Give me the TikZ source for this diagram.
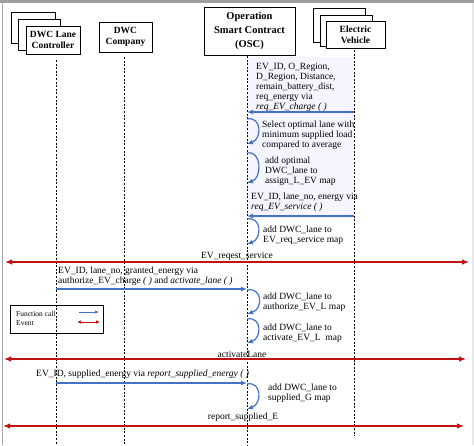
\documentclass[tikz,border=0pt]{standalone}
\usepackage{fontspec}
\setmainfont{Liberation Serif}
\usepackage{xcolor}
\usepackage{tikz}
\usetikzlibrary{arrows.meta}

\definecolor{callblue}{RGB}{68,114,196}
\definecolor{eventred}{RGB}{192,16,16}

\begin{document}
\begin{tikzpicture}[
    x=1pt, y=-1pt,
    actor/.style={draw, fill=white, line width=0.9pt, inner sep=0pt, align=center, font=\bfseries\fontsize{9.5}{11.5}\selectfont},
    shadow/.style={draw, fill=white, line width=0.9pt},
    life/.style={dash pattern=on 2pt off 1.6pt, line width=1pt},
    msg/.style={inner sep=0pt, anchor=north west, align=left, font=\fontsize{9.5}{10}\selectfont},
    lbl/.style={inner sep=0pt, font=\fontsize{9.5}{10}\selectfont},
    legtext/.style={inner sep=0pt, anchor=west, font=\fontsize{7.5}{9}\selectfont},
    call/.style={-{Latex[length=6pt,width=5pt]}, callblue, line width=1.2pt},
    event/.style={{Latex[length=7pt,width=5.5pt]}-{Latex[length=7pt,width=5.5pt]}, eventred, line width=1.2pt}
]
    \useasboundingbox (0,0) rectangle (474,445);

    % window frame
    \fill[gray!75] (0,0) rectangle (474,2.5);
    \fill[gray!18] (471.5,2.5) rectangle (474,445);
    \draw[gray!70, line width=1.3pt] (2.5,0) -- (2.5,445);

    % shaded band between OSC and vehicle
    \fill[blue!4] (247,57) rectangle (354,218);

    % Actors
    \draw[shadow] (11,12) rectangle (55,43);
    \draw[shadow] (18,19) rectangle (60,50);
    \node[actor, minimum width=54pt, minimum height=28pt] (lanectl) at (53,40) {DWC Lane\\Controller};
    \node[actor, minimum width=53pt, minimum height=30pt] (company) at (125.5,37) {DWC\\Company};
    \node[actor, minimum width=91pt, minimum height=48pt, font=\bfseries\fontsize{10.5}{14}\selectfont] (osc) at (249.5,31) {Operation\\Smart Contract\\(OSC)};
    \draw[shadow] (313,8) rectangle (365,42);
    \draw[shadow] (320,15) rectangle (372,46);
    \node[actor, minimum width=59pt, minimum height=27pt] (ev) at (355.5,35) {Electric\\Vehicle};

    % Lifelines
    \coordinate (lc-top) at (56,60);   \coordinate (lc-bot) at (56,445);
    \coordinate (co-top) at (124,57);  \coordinate (co-bot) at (124,445);
    \coordinate (osc-top) at (247,56); \coordinate (osc-bot) at (247,445);
    \coordinate (ev-top) at (354,50);  \coordinate (ev-bot) at (354,436);
    \draw[life] (lc-top) -- (lc-bot);
    \draw[life] (co-top) -- (co-bot);
    \draw[life] (osc-top) -- (osc-bot);
    \draw[life] (ev-top) -- (ev-bot);

    % req_EV_charge
    \node[msg] (m1) at (256,63) {EV\_ID, O\_Region,\\D\_Region, Distance,\\remain\_battery\_dist,\\req\_energy via\\\textit{req\_EV\_charge ( )}};
    \coordinate (ev-1) at (354,112); \coordinate (osc-1) at (247,112);
    \draw[call] (ev-1) -- (osc-1);

    \coordinate (osc-2a) at (247,119); \coordinate (osc-2b) at (247,144);
    \draw[call] (osc-2a) .. controls +(15,-3) and +(15,-5) .. (osc-2b);
    \node[msg] (m2) at (262,121) {Select optimal lane with\\minimum supplied load\\compared to average};

    \coordinate (osc-3a) at (247,153); \coordinate (osc-3b) at (247,183);
    \draw[call] (osc-3a) .. controls +(15,-3) and +(15,-5) .. (osc-3b);
    \node[msg] (m3) at (265,157) {add optimal\\DWC\_lane to\\assign\_L\_EV map};

    % req_EV_service
    \node[msg] (m4) at (251,193) {EV\_ID, lane\_no, energy via\\\textit{req\_EV\_service ( )}};
    \coordinate (ev-4) at (354,216); \coordinate (osc-4) at (247,216);
    \draw[call] (ev-4) -- (osc-4);

    \coordinate (osc-5a) at (247,219); \coordinate (osc-5b) at (247,244);
    \draw[call] (osc-5a) .. controls +(15,-3) and +(15,-5) .. (osc-5b);
    \node[msg] (m5) at (263,226) {add DWC\_lane to\\EV\_req\_service map};

    % event EV_reqest_service
    \coordinate (e1-l) at (5,262); \coordinate (e1-r) at (469,262);
    \draw[event] (e1-l) -- (e1-r);
    \node[lbl] (e1) at (237,256) {EV\_reqest\_service};

    % authorize_EV_charge
    \node[msg] (m7) at (58,267) {EV\_ID, lane\_no, granted\_energy via\\authorize\_EV\_charge \textit{( )} and \textit{activate\_lane ( )}};
    \coordinate (lc-7) at (56,289); \coordinate (osc-7) at (247,289);
    \draw[call] (lc-7) -- (osc-7);

    \coordinate (osc-8a) at (247,290); \coordinate (osc-8b) at (247,314);
    \draw[call] (osc-8a) .. controls +(16,-3) and +(16,-5) .. (osc-8b);
    \node[msg] (m8) at (263,293) {add DWC\_lane to\\authorize\_EV\_L map};

    \coordinate (osc-9a) at (247,319); \coordinate (osc-9b) at (247,343);
    \draw[call] (osc-9a) .. controls +(15,-3) and +(15,-5) .. (osc-9b);
    \node[msg] (m9) at (263,324) {add DWC\_lane to\\activate\_EV\_L\ \ map};

    % event activateLane
    \coordinate (e2-l) at (4,359); \coordinate (e2-r) at (466,359);
    \draw[event] (e2-l) -- (e2-r);
    \node[lbl] (e2) at (242,354) {activateLane};

    % report_supplied_energy
    \node[msg] (m11) at (36,370) {EV\_ID, supplied\_energy via \textit{report\_supplied\_energy ( )}};
    \coordinate (lc-11) at (56,383); \coordinate (osc-11) at (247,383);
    \draw[call] (lc-11) -- (osc-11);

    \coordinate (osc-12a) at (247,384); \coordinate (osc-12b) at (247,409);
    \draw[call] (osc-12a) .. controls +(15,-3) and +(15,-5) .. (osc-12b);
    \node[msg] (m12) at (268,384) {add DWC\_lane to\\supplied\_G map};

    % event report_supplied_E
    \coordinate (e3-l) at (3,426); \coordinate (e3-r) at (464,426);
    \draw[event] (e3-l) -- (e3-r);
    \node[lbl] (e3) at (243,417) {report\_supplied\_E};

    % Legend
    \node[draw, minimum width=93pt, minimum height=28pt, inner sep=0pt] (legend) at (56.5,319) {};
    \node[legtext] (lfc) at (16,314) {Function call};
    \node[legtext] (lev) at (16,323) {Event};
    \coordinate (lc-a) at (79,312); \coordinate (lc-b) at (99,312);
    \coordinate (le-a) at (77,322); \coordinate (le-b) at (100,322);
    \draw[call, line width=0.8pt, -{Latex[length=4pt,width=3.5pt]}] (lc-a) -- (lc-b);
    \draw[event, line width=0.8pt, {Latex[length=4pt,width=3.5pt]}-{Latex[length=4pt,width=3.5pt]}] (le-a) -- (le-b);
\end{tikzpicture}
\end{document}
